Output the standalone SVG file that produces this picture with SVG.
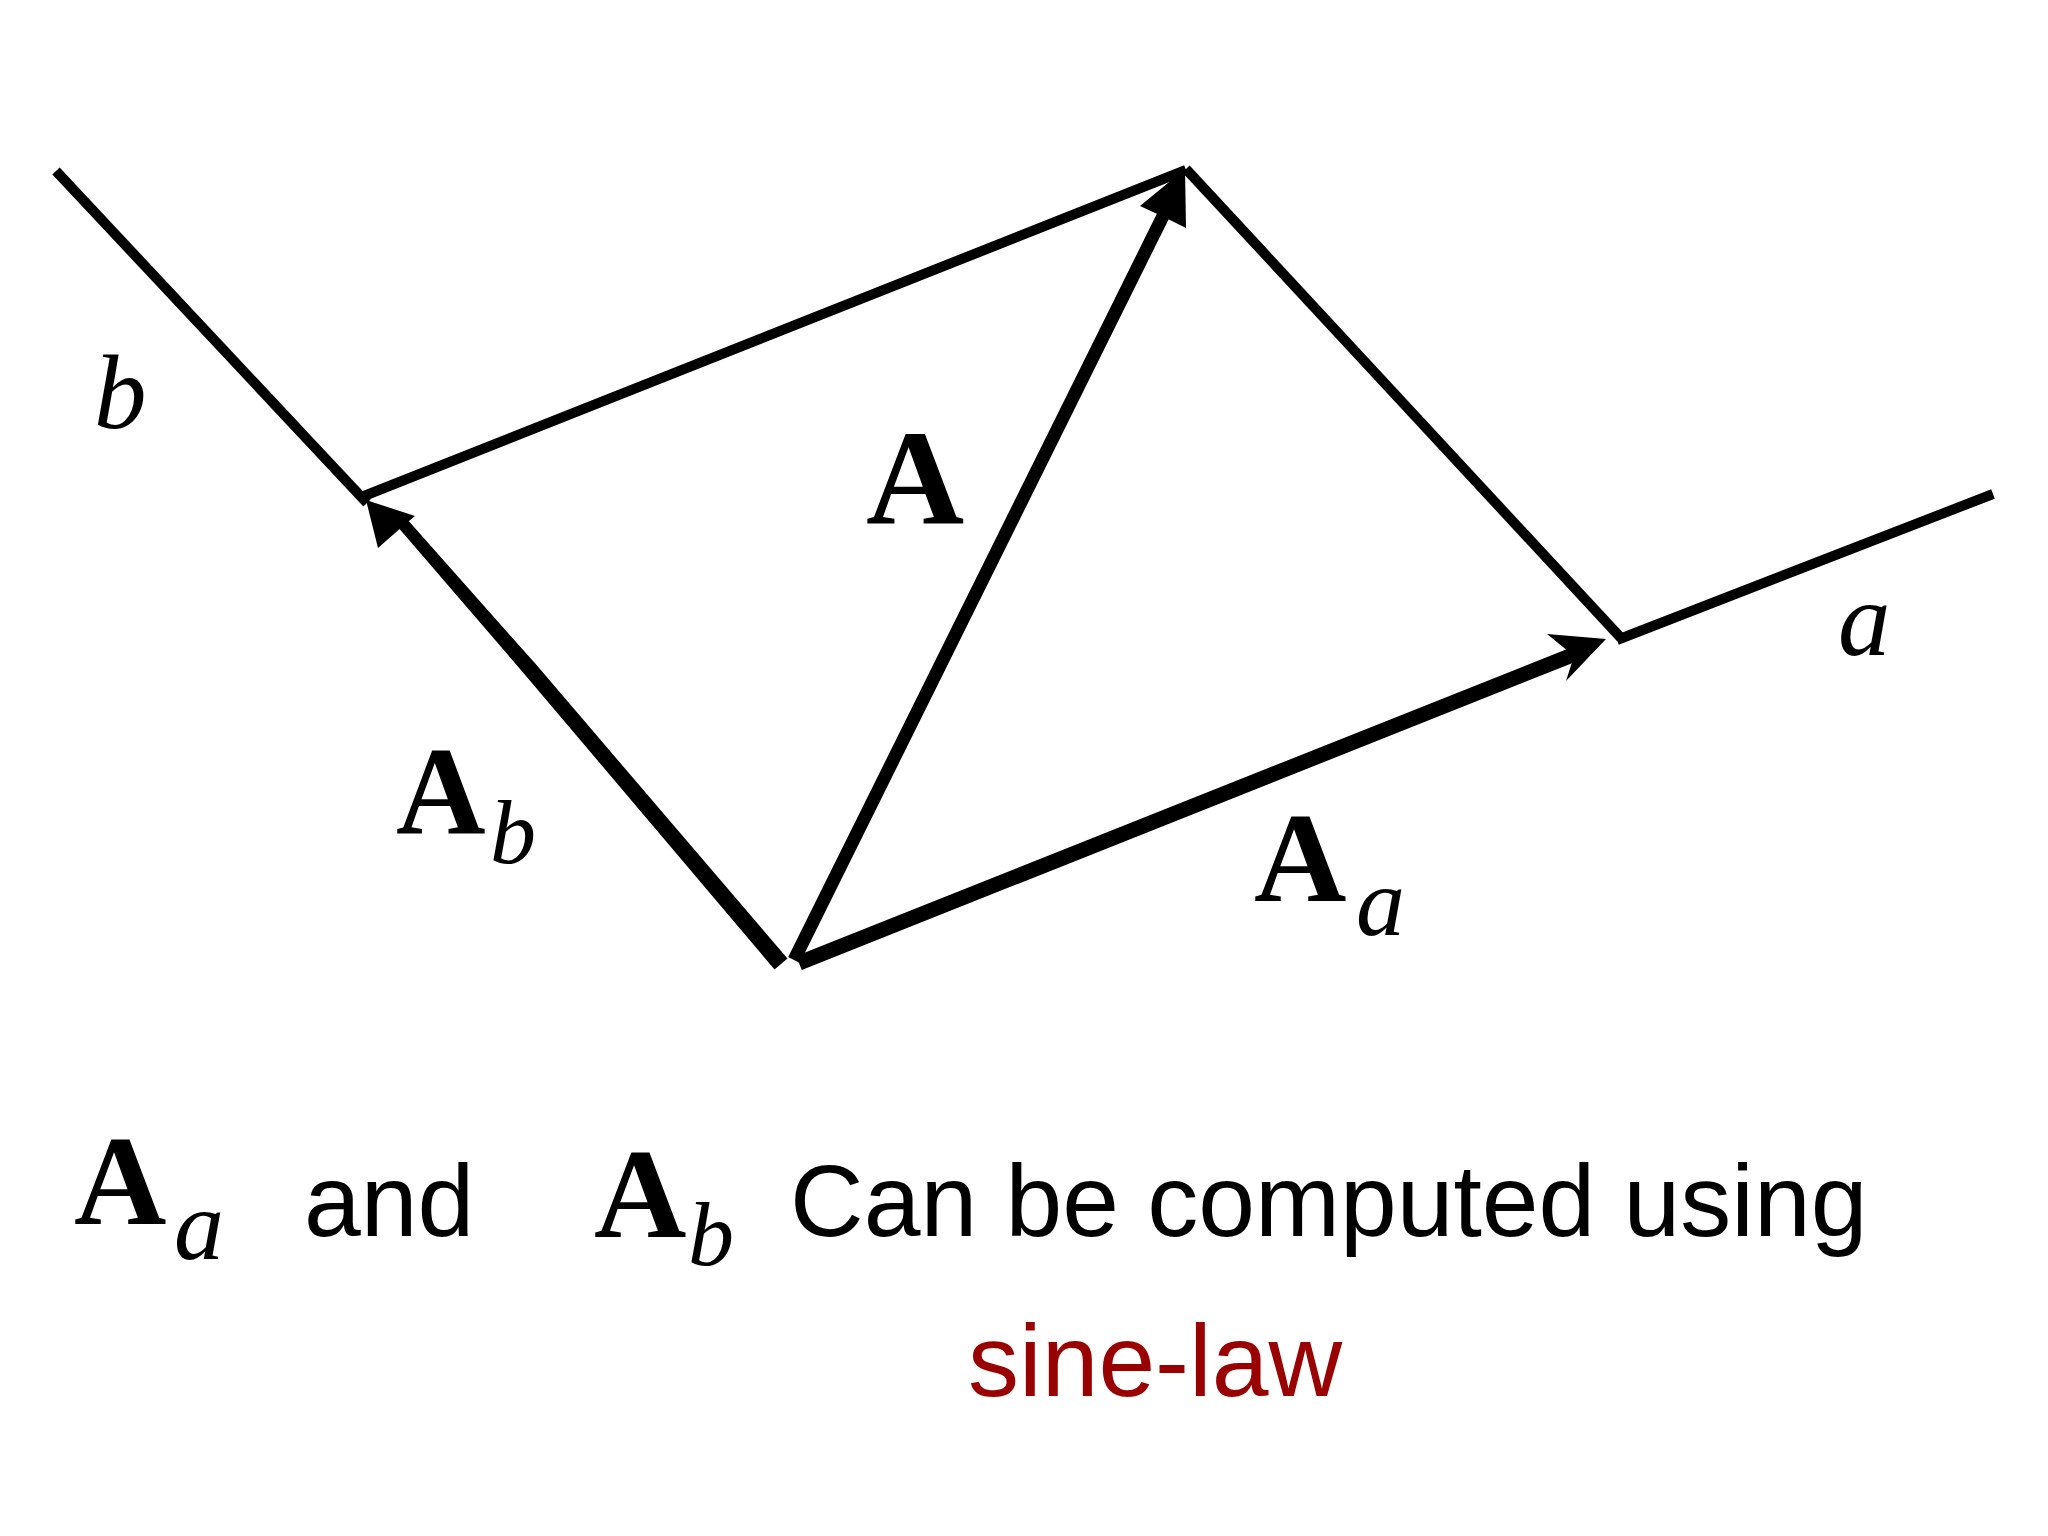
<svg xmlns="http://www.w3.org/2000/svg" width="2048" height="1536" viewBox="0 0 2048 1536">
<style>
.thin{stroke:#000;stroke-width:10;fill:none;stroke-linecap:butt}
.thick{stroke:#000;fill:none;stroke-linecap:butt}
.head{fill:#000;stroke:none}
.bold{font-family:"Liberation Serif","Times New Roman",serif;font-weight:bold}
.ital{font-family:"Liberation Serif","Times New Roman",serif;font-style:italic}
.sans{font-family:"Liberation Sans",Arial,sans-serif}
</style>
<rect width="2048" height="1536" fill="#fff"/>
<g id="connectors">
  <line id="axis-b" class="thin" x1="56" y1="171" x2="367" y2="503"/>
  <line id="top-side" class="thin" x1="364" y1="496" x2="1186" y2="170"/>
  <line id="right-side" class="thin" x1="1186" y1="169" x2="1621" y2="638"/>
  <line id="axis-a" class="thin" x1="1617" y1="640" x2="1993" y2="494"/>
  <g id="vec-Ab">
    <polygon class="head" points="787.5,958.5 535.7,664.1 402.5,514.1 393.5,521.9 524.3,673.9 774.5,969.5"/>
    <polygon class="head" points="366,500 415,516 403,526 378,548"/>
  </g>
  <g id="vec-A">
    <line class="thick" stroke-width="13" x1="794" y1="960" x2="1166" y2="210"/>
    <polygon class="head" points="1185,169 1186,228 1166,218 1140,206"/>
  </g>
  <g id="vec-Aa">
    <line class="thick" stroke-width="15" x1="799" y1="963" x2="1580" y2="652"/>
    <polygon class="head" points="1606,639 1566,681 1574,656 1547,634"/>
  </g>
</g>
<g id="label-b"><text class="ital" x="94" y="428" font-size="105">b</text></g>
<g id="label-a"><text class="ital" x="1838" y="655" font-size="105">a</text></g>
<g id="label-A"><text class="bold" x="866" y="524" font-size="136">A</text></g>
<g id="label-Ab"><text class="bold" x="396" y="833" font-size="124">A</text><text class="ital" x="490" y="863" font-size="92">b</text></g>
<g id="label-Aa"><text class="bold" x="1254" y="901" font-size="128">A</text><text class="ital" x="1356" y="935" font-size="98">a</text></g>
<g id="caption">
  <text class="bold" x="74" y="1224" font-size="128">A</text>
  <text class="ital" x="174" y="1259" font-size="100">a</text>
  <text class="sans" x="304" y="1236" font-size="102">and</text>
  <text class="bold" x="594" y="1237" font-size="128">A</text>
  <text class="ital" x="688" y="1265" font-size="92">b</text>
  <text class="sans" x="790" y="1236" font-size="102">Can be computed using</text>
  <text class="sans" x="968" y="1396" font-size="102" fill="#990000">sine-law</text>
</g>
</svg>
